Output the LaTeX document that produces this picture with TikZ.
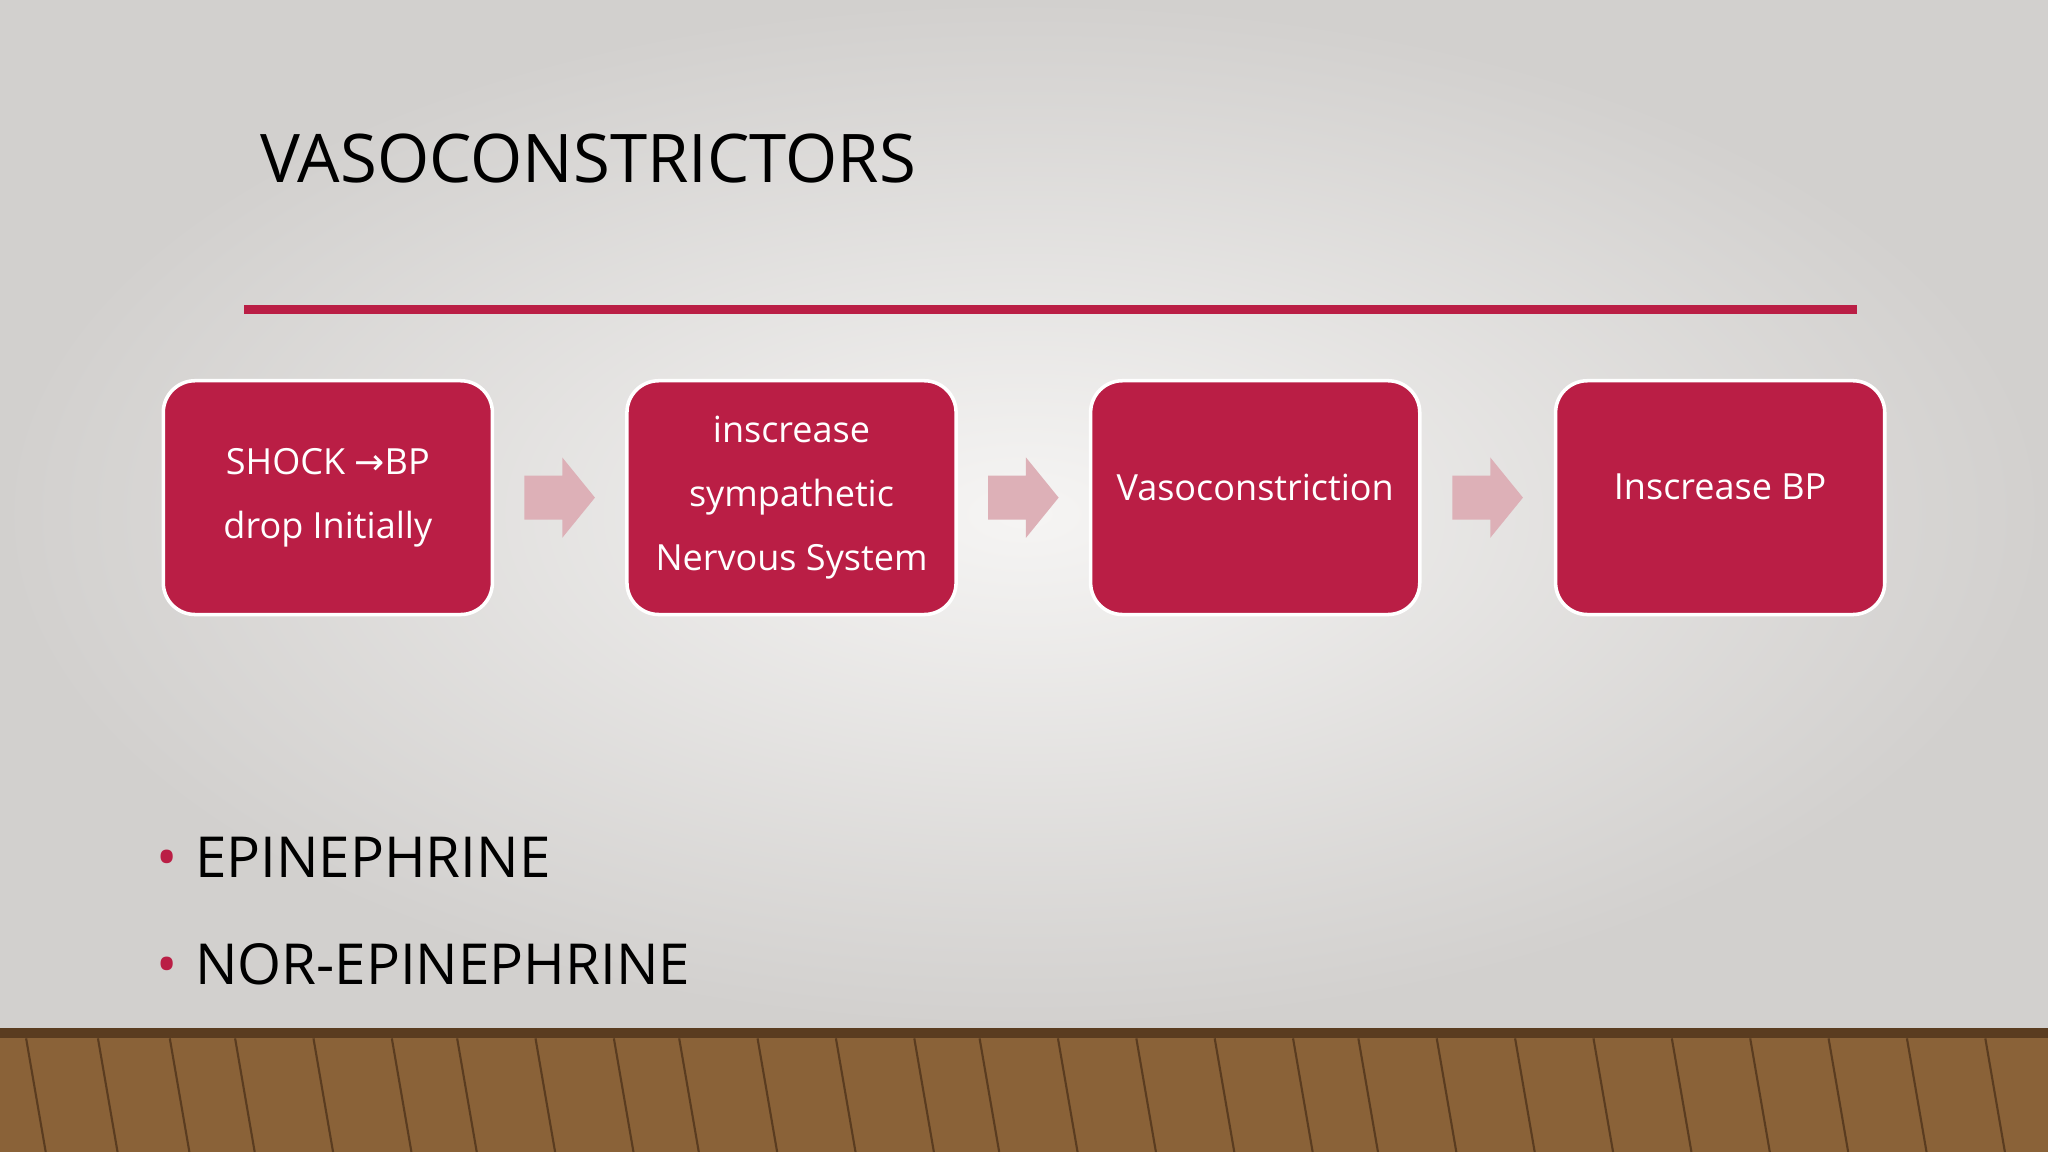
\documentclass[tikz,border=0pt]{standalone}
\usepackage{fontspec}
\setmainfont{Open Sans}
\newfontfamily\symf{DejaVu Sans}
\definecolor{boxred}{HTML}{BA1E45}
\definecolor{arr}{HTML}{DDB0B7}
\definecolor{wood}{HTML}{8A6238}
\definecolor{woodd}{HTML}{5A3C20}
\definecolor{bgc}{HTML}{ECEAE8}
\definecolor{bge}{HTML}{D2D0CE}
\begin{document}
\begin{tikzpicture}[x=0.013cm,y=-0.013cm,
  box/.style={draw=white,line width=1pt,fill=boxred,rounded corners=9pt,text=white,align=center,font=\fontsize{10.2}{18}\selectfont,minimum width=252*0.013cm,minimum height=179*0.013cm,inner sep=0pt},
  flow/.style={fill=arr,draw=none}]
\useasboundingbox (0,0) rectangle (1568,882);
\shade[inner color=bgc!50!white,outer color=bge] (0,0) rectangle (1568,787);
\fill[wood] (0,787) rectangle (1568,882);
\fill[woodd] (0,787) rectangle (1568,795);
\foreach \x in {20,75,130,180,240,300,350,410,470,520,580,640,700,750,810,870,930,990,1040,1100,1160,1220,1280,1340,1400,1460,1520}
  \draw[woodd,line width=0.6pt] (\x,795) -- (\x+15,882);
\node[anchor=base west,inner sep=0pt,font=\fontsize{19}{23}\selectfont] (title) at (199,140) {VASOCONSTRICTORS};
\coordinate (l1) at (187,237); \coordinate (l2) at (1422,237);
\draw[boxred,line width=2.5pt] (l1) -- (l2);
\node[box] (b1) at (251,381) {SHOCK {\symf →}BP\\drop Initially};
\node[box] (b2) at (606,381) {inscrease\\sympathetic\\Nervous System};
\node[box] (b3) at (961,381) {\raisebox{6pt}{Vasoconstriction}};
\node[box] (b4) at (1317,381) {\raisebox{6pt}{Inscrease BP}};
\foreach \a/\b in {b1/b2,b2/b3,b3/b4}{
  \path (\a.east) -- (\b.west) coordinate[pos=0.5] (m);
  \fill[flow] ([xshift=-27*0.013cm,yshift=0.22cm]m) -- ([xshift=2*0.013cm,yshift=0.22cm]m) -- ([xshift=2*0.013cm,yshift=0.40cm]m) -- ([xshift=27*0.013cm]m) -- ([xshift=2*0.013cm,yshift=-0.40cm]m) -- ([xshift=2*0.013cm,yshift=-0.22cm]m) -- ([xshift=-27*0.013cm,yshift=-0.22cm]m) -- cycle;
}
\node[anchor=base west,inner sep=0pt,font=\fontsize{16}{20}\selectfont] (e1) at (119,672) {\textcolor{boxred}{\textbullet}\hspace{5pt}EPINEPHRINE};
\node[anchor=base west,inner sep=0pt,font=\fontsize{16}{20}\selectfont] (e2) at (119,754) {\textcolor{boxred}{\textbullet}\hspace{5pt}NOR-EPINEPHRINE};
\end{tikzpicture}
\end{document}
